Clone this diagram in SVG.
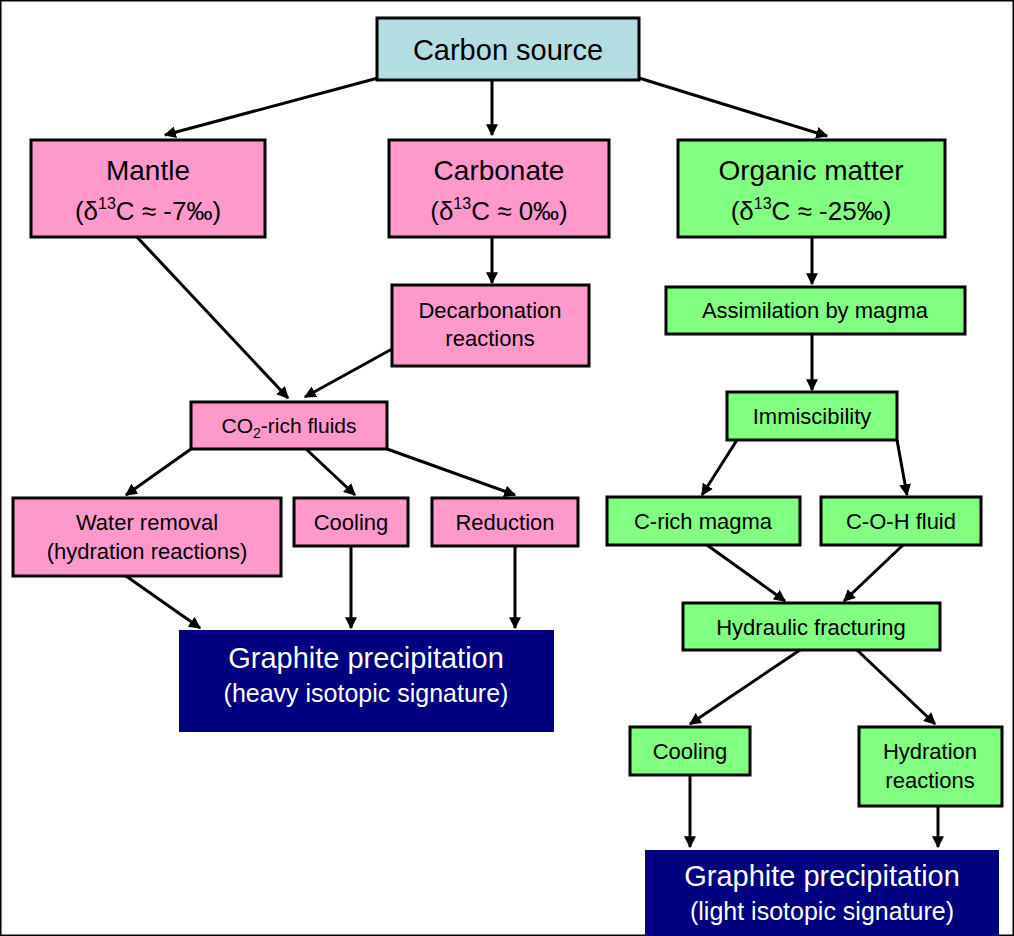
<svg xmlns="http://www.w3.org/2000/svg" width="1014" height="936" viewBox="0 0 1014 936">
<style>
rect{stroke:#000;stroke-width:3}
.p{fill:#ff99cc}.g{fill:#80ff80}.c{fill:#b3dde3}.n{fill:#000080;stroke:none}
text{font-family:"Liberation Sans",Arial,sans-serif;text-anchor:middle;fill:#000}
.w{fill:#fff}
#conn line{stroke:#000;stroke-width:3;marker-end:url(#a)}
</style>
<defs><marker id="a" viewBox="0 0 10 10" refX="9" refY="5" markerWidth="4" markerHeight="4" orient="auto" markerUnits="strokeWidth"><path d="M0,0L10,5L0,10z" fill="#000"/></marker></defs>
<rect fill="#fff" stroke="none" width="1014" height="936"/>
<g id="conn">
<line x1="378" y1="78" x2="165" y2="135"/>
<line x1="492" y1="80" x2="492" y2="135"/>
<line x1="639" y1="78" x2="827" y2="136"/>
<line x1="137" y1="237" x2="288" y2="398"/>
<line x1="392" y1="349" x2="305" y2="397"/>
<line x1="492" y1="237" x2="492" y2="283"/>
<line x1="191" y1="449" x2="126" y2="495"/>
<line x1="306" y1="449" x2="355" y2="495"/>
<line x1="387" y1="449" x2="515" y2="495"/>
<line x1="126" y1="576" x2="200" y2="628"/>
<line x1="351" y1="546" x2="351" y2="628"/>
<line x1="515" y1="546" x2="515" y2="628"/>
<line x1="812" y1="237" x2="812" y2="284"/>
<line x1="812" y1="334" x2="812" y2="390"/>
<line x1="737" y1="440" x2="702" y2="495"/>
<line x1="897" y1="440" x2="907" y2="495"/>
<line x1="707" y1="545" x2="785" y2="601"/>
<line x1="903" y1="545" x2="844" y2="601"/>
<line x1="800" y1="650" x2="690" y2="724"/>
<line x1="857" y1="650" x2="935" y2="724"/>
<line x1="690" y1="775" x2="690" y2="847"/>
<line x1="938" y1="806" x2="938" y2="847"/>
</g>
<g id="src"><rect class="c" x="377" y="18" width="262" height="62"/><text x="508" y="60" font-size="29">Carbon source</text></g>
<g id="mantle"><rect class="p" x="31" y="140" width="234" height="97"/><text x="148" y="180" font-size="28">Mantle</text><text x="148" y="220" font-size="26">(δ<tspan font-size="16" dy="-11">13</tspan><tspan dy="11">C ≈ -7‰)</tspan></text></g>
<g id="carbonate"><rect class="p" x="389" y="140" width="220" height="97"/><text x="499" y="180" font-size="28">Carbonate</text><text x="499" y="220" font-size="26">(δ<tspan font-size="16" dy="-11">13</tspan><tspan dy="11">C ≈ 0‰)</tspan></text></g>
<g id="organic"><rect class="g" x="678" y="140" width="267" height="97"/><text x="811" y="180" font-size="28">Organic matter</text><text x="811" y="220" font-size="26">(δ<tspan font-size="16" dy="-11">13</tspan><tspan dy="11">C ≈ -25‰)</tspan></text></g>
<g id="decarb"><rect class="p" x="392" y="285" width="197" height="81"/><text x="490" y="318" font-size="22">Decarbonation</text><text x="490" y="346" font-size="22">reactions</text></g>
<g id="co2"><rect class="p" x="191" y="402" width="196" height="47"/><text x="289" y="433" font-size="21">CO<tspan font-size="14" dy="5">2</tspan><tspan dy="-5">-rich fluids</tspan></text></g>
<g id="water"><rect class="p" x="13" y="498" width="268" height="78"/><text x="147" y="530" font-size="22">Water removal</text><text x="147" y="559" font-size="22">(hydration reactions)</text></g>
<g id="cool1"><rect class="p" x="294" y="498" width="114" height="48"/><text x="351" y="530" font-size="22">Cooling</text></g>
<g id="reduc"><rect class="p" x="432" y="498" width="146" height="48"/><text x="505" y="530" font-size="22">Reduction</text></g>
<g id="gheavy"><rect class="n" x="179" y="630" width="375" height="102"/><text class="w" x="366" y="668" font-size="29">Graphite precipitation</text><text class="w" x="366" y="702" font-size="25">(heavy isotopic signature)</text></g>
<g id="assim"><rect class="g" x="666" y="287" width="299" height="47"/><text x="815" y="318" font-size="22">Assimilation by magma</text></g>
<g id="immisc"><rect class="g" x="727" y="392" width="170" height="48"/><text x="812" y="424" font-size="22">Immiscibility</text></g>
<g id="crich"><rect class="g" x="607" y="497" width="193" height="48"/><text x="703" y="529" font-size="22">C-rich magma</text></g>
<g id="coh"><rect class="g" x="821" y="497" width="160" height="48"/><text x="901" y="529" font-size="22">C-O-H fluid</text></g>
<g id="hydr"><rect class="g" x="683" y="603" width="257" height="47"/><text x="811" y="635" font-size="22">Hydraulic fracturing</text></g>
<g id="cool2"><rect class="g" x="630" y="727" width="120" height="48"/><text x="690" y="759" font-size="22">Cooling</text></g>
<g id="hydra"><rect class="g" x="859" y="727" width="143" height="79"/><text x="930" y="759" font-size="22">Hydration</text><text x="930" y="788" font-size="22">reactions</text></g>
<g id="glight"><rect class="n" x="645" y="850" width="354" height="86"/><text class="w" x="822" y="886" font-size="29">Graphite precipitation</text><text class="w" x="822" y="920" font-size="25">(light isotopic signature)</text></g>
</svg>
